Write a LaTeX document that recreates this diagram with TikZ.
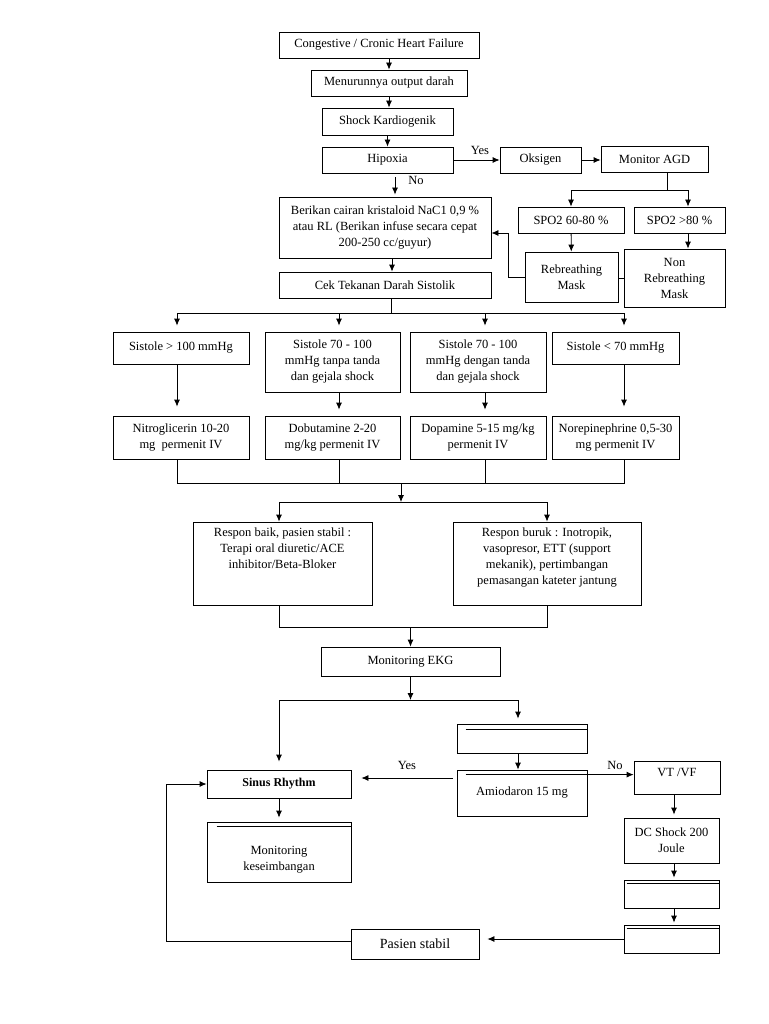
\documentclass[tikz,border=0pt]{standalone}
\usepackage{fontspec}
\setmainfont{Liberation Serif}
\usetikzlibrary{arrows, arrows.meta, positioning}

\begin{document}
\begin{tikzpicture}[x=1pt,y=-1pt,>={Latex[length=7pt,width=6pt]},line width=0.8pt,
	box/.style={draw, rectangle, align=center, inner sep=1pt, font=\fontsize{12.5}{16}\selectfont},
	txt/.style={align=center, inner sep=0pt, font=\fontsize{12.5}{16}\selectfont},
	wh/.style 2 args={minimum width=#1pt, minimum height=#2pt},
	gap/.style={shorten >=#1}]
	  \fill[white] (0,0) rectangle (768,1024);

	  \node[box, wh={200}{26}] (chf) at (379,45) {Congestive / Cronic Heart Failure};
	  \node[box, wh={156}{26}] (menurun) at (389,83) {Menurunnya output darah};
	  \node[box, wh={131}{27}] (shock) at (387.5,121.5) {Shock Kardiogenik};
	  \node[box, wh={131}{26}] (hipoxia) at (387.5,160) {Hipoxia};
	  \node[box, wh={81}{26}] (oksigen) at (540.5,160) {Oksigen};
	  \node[box, wh={107}{26}] (agd) at (654.5,159) {Monitor AGD};
	  \node[box, wh={106}{26}] (spoA) at (571,220) {SPO2 60-80 \%};
	  \node[box, wh={91}{26}] (spoB) at (679.5,220) {SPO2 >80 \%};
	  \node[box, wh={93}{50}] (rebreath) at (571.5,277) {Rebreathing\\Mask};
	  \node[box, wh={101}{58}] (nonreb) at (674.5,278) {Non\\Rebreathing\\Mask};
	  \node[box, wh={212}{61}] (cairan) at (385,227.5) {Berikan cairan kristaloid NaC1 0,9 \%\\atau RL (Berikan infuse secara cepat\\200-250 cc/guyur)};
	  \node[box, wh={212}{26}] (cek) at (385,285) {Cek Tekanan Darah Sistolik};

	  \node[box, wh={136}{32}] (s1) at (181,348) {Sistole > 100 mmHg};
	  \node[box, wh={135}{60}] (s2) at (332.5,362) {Sistole 70 - 100\\mmHg tanpa tanda\\dan gejala shock};
	  \node[box, wh={136}{60}] (s3) at (478,362) {Sistole 70 - 100\\mmHg dengan tanda\\dan gejala shock};
	  \node[box, wh={127}{32}] (s4) at (615.5,348) {Sistole < 70 mmHg};
	  \node[box, wh={136}{43}] (d1) at (181,437.5) {Nitroglicerin 10-20\\mg\ \ permenit IV};
	  \node[box, wh={135}{43}] (d2) at (332.5,437.5) {Dobutamine 2-20\\mg/kg permenit IV};
	  \node[box, wh={136}{43}] (d3) at (478,437.5) {Dopamine 5-15 mg/kg\\permenit IV};
	  \node[box, wh={127}{43}] (d4) at (615.5,437.5) {Norepinephrine 0,5-30\\mg permenit IV};

	  \node[box, wh={179}{83}] (baik) at (282.5,563.5) {};
	  \node[txt, below=6pt of baik.north] (baiktxt) {Respon baik, pasien stabil :\\Terapi oral diuretic/ACE\\inhibitor/Beta-Bloker};
	  \node[box, wh={188}{83}] (buruk) at (547,563.5) {};
	  \node[txt, below=6pt of buruk.north] (buruktxt) {Respon buruk : Inotropik,\\vasopresor, ETT (support\\mekanik), pertimbangan\\pemasangan kateter jantung};
	  \node[box, wh={179}{29}] (ekg) at (410.5,661.5) {Monitoring EKG};

	  \node[box, wh={130}{29}] (blankA) at (522,738.5) {};
	  \node[box, wh={130}{46}] (amio) at (522,793) {Amiodaron 15 mg};
	  \node[box, wh={144}{28}, font=\fontsize{12}{14}\selectfont\bfseries] (sinus) at (279,784) {Sinus Rhythm};
	  \node[box, wh={144}{60}] (keseim) at (279,852) {};
	  \node[txt] (keseimtxt) at ([yshift=-8pt]keseim.center) {Monitoring\\keseimbangan};
	  \node[box, wh={86}{33}] (vtvf) at (677,777.5) {};
	  \node[txt] (vtvftxt) at ([yshift=5pt]vtvf.center) {VT /VF};
	  \node[box, wh={95}{45}] (dc) at (671.5,840.5) {DC Shock 200\\Joule};
	  \node[box, wh={95}{28}] (blankB) at (671.5,894) {};
	  \node[box, wh={95}{28}] (blankC) at (671.5,939) {};
	  \node[box, wh={128}{30}, font=\fontsize{14}{16}\selectfont] (pasien) at (415,944) {Pasien stabil};

	  \node[txt] (yesA) at (480,150) {Yes};
	  \node[txt] (noA) at (416,180) {No};
	  \node[txt] (yesB) at (407,765) {Yes};
	  \node[txt] (noB) at (615,765) {No};

	  \draw[->] (chf.south -| menurun.north) -- (menurun.north);
	  \draw[->] (menurun.south) -- (menurun.south |- shock.north);
	  \draw[->] (shock) -- (hipoxia);
	  \draw[->] (hipoxia) -- (oksigen);
	  \draw[->] (oksigen.east) -- (oksigen.east -| agd.west);
	  \draw ([xshift=12.5pt]agd.south) -- ++(0,18) coordinate (agdsplit);
	  \draw[->] (agdsplit) -| (spoA);
	  \draw[->] (agdsplit) -| ([xshift=8.5pt]spoB.north);
	  \draw[->] (spoA) -- (rebreath);
	  \draw[->] ([xshift=8.5pt]spoB.south) -- ([xshift=8.5pt]spoB.south |- nonreb.north);
	  \draw (nonreb.west) -- (nonreb.west -| rebreath.east);
	  \draw[->] (rebreath.west) -- ++(-16,0) |- ([yshift=-5.5pt]cairan.east);
	  \draw[->,gap=2pt] ([xshift=7.5pt,yshift=-4pt]hipoxia.south) -- ([xshift=10pt]cairan.north);
	  \draw[->] ([xshift=7pt]cairan.south) -- ([xshift=7pt]cek.north);

	  \draw ([xshift=6pt]cek.south) -- ++(0,15) coordinate (rowsplit);
	  \draw[->,gap=6pt] (rowsplit) -| ([xshift=-4pt]s1.north);
	  \draw[->,gap=6pt] (rowsplit) -| ([xshift=6.5pt]s2.north);
	  \draw[->,gap=6pt] (rowsplit) -| ([xshift=7pt]s3.north);
	  \draw[->,gap=6pt] (rowsplit) -| ([xshift=8.5pt]s4.north);
	  \draw[->,gap=9pt] ([xshift=-4pt]s1.south) -- ([xshift=-4pt]d1.north);
	  \draw[->,gap=6pt] ([xshift=6.5pt]s2.south) -- ([xshift=6.5pt]d2.north);
	  \draw[->,gap=6pt] ([xshift=7pt]s3.south) -- ([xshift=7pt]d3.north);
	  \draw[->,gap=9pt] ([xshift=8.5pt]s4.south) -- ([xshift=8.5pt]d4.north);

	  \draw ([xshift=-4pt]d1.south) -- ++(0,24) -| ([xshift=8.5pt]d4.south);
	  \draw ([xshift=6.5pt]d2.south) -- ++(0,24);
	  \draw ([xshift=7pt]d3.south) -- ++(0,24);
	  \coordinate (merge) at (401,483);
	  \coordinate (respsplit) at (401,502);
	  \draw[->] (merge) -- (respsplit);
	  \draw[->] (respsplit) -| ([xshift=-3.5pt]baik.north);
	  \draw[->] (respsplit) -| (buruk.north);
	  \draw ([xshift=-3.5pt]baik.south) -- ++(0,22) -| (buruk.south);
	  \coordinate (merge2) at (410.5,627);
	  \draw[->] (merge2) -- (ekg.north);

	  \coordinate (ekgsplit) at (410.5,700);
	  \draw[->] (ekg) -- (ekgsplit);
	  \draw[->,gap=8pt] (ekgsplit) -| (sinus);
	  \draw[->,gap=5pt] (ekgsplit) -| ([xshift=-4pt]blankA.north);
	  \draw ([xshift=9pt,yshift=-6pt]blankA.north west) -- ([yshift=-6pt]blankA.north east);
	  \draw[->] ([xshift=-4pt]blankA.south) -- ([xshift=-4pt]amio.north);
	  \draw ([xshift=9pt,yshift=-5pt]amio.north west) -- ([yshift=-5pt]amio.north east) coordinate (amioline);
	  \draw[->] (amioline) -- (vtvf.west |- amioline);
	  \draw[->] ([xshift=-4pt,yshift=15pt]amio.west) -- ([xshift=10pt,yshift=6pt]sinus.east);
	  \draw[->,gap=4pt] (sinus) -- (keseim);
	  \draw ([xshift=10pt,yshift=-5pt]keseim.north west) -- ([yshift=-5pt]keseim.north east);

	  \draw[->,gap=3pt] ([xshift=-3pt]vtvf.south) -- ([xshift=-3pt]vtvf.south |- dc.north);
	  \draw[->,gap=2pt] ([xshift=2.5pt]dc.south) -- ([xshift=2.5pt]blankB.north);
	  \draw ([xshift=3pt,yshift=-4pt]blankB.north west) -- ([yshift=-4pt]blankB.north east);
	  \draw[->,gap=2pt] ([xshift=2.5pt]blankB.south) -- ([xshift=2.5pt]blankC.north);
	  \draw ([xshift=3pt,yshift=-4pt]blankC.north west) -- ([yshift=-4pt]blankC.north east);
	  \draw[->,gap=8pt] (blankC.west) -- (blankC.west -| pasien.east);
	  \draw[->] ([yshift=3pt]pasien.west) -- ++(-184,0) |- (sinus.west);

	\end{tikzpicture}
\end{document}
